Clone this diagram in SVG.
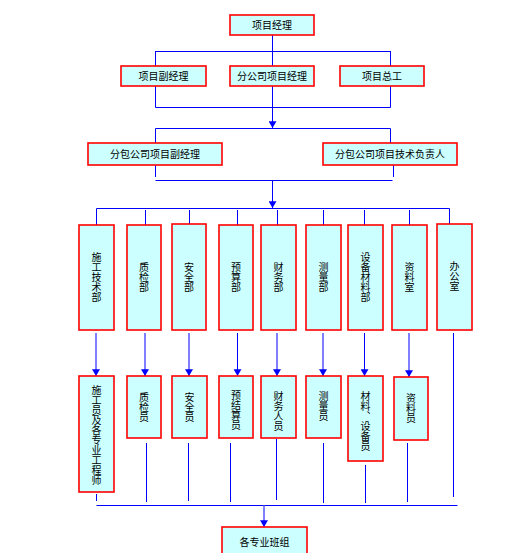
<svg xmlns="http://www.w3.org/2000/svg" width="524" height="553" viewBox="0 0 524 553">
<style>
.box{fill:#ccffff;stroke:#ff0000;stroke-width:1.6}
.t{font-family:"Noto Sans CJK SC","Noto Sans CJK JP",sans-serif;font-size:10px;fill:#000;text-anchor:middle}
.v{font-family:"Noto Sans CJK SC","Noto Sans CJK JP",sans-serif;font-size:10px;fill:#000;text-anchor:middle;writing-mode:vertical-rl}
.c{fill:none;stroke:#0000ff;stroke-width:1}
.l{fill:none;stroke:#7f7fff;stroke-width:2}
</style>
<defs>
<marker id="ah" markerUnits="userSpaceOnUse" markerWidth="8" markerHeight="8" refX="6" refY="3.5" orient="auto" viewBox="0 0 6 7">
<path d="M0,0 L6,3.5 L0,7 Z" fill="#0000ff"/>
</marker>
</defs>
<rect width="524" height="553" fill="#fff"/>
<g id="connectors">
<path class="c" d="M272.5,35V51.5M155.5,51.5H390.5M155.5,51V66M272.5,51V66M390.5,51V66"/>
<path class="c" d="M155.5,86V107.5M272.5,86V107.5M390.5,86V107.5M155.5,107.5H390.5"/>
<path class="c" d="M272.5,107.5V128" marker-end="url(#ah)"/>
<path class="c" d="M155.5,128.5H390.5M155.5,128.5V143M390.5,128.5V143"/>
<path class="c" d="M155.5,165V177M393.5,165V177M155.5,180.5H392.5"/>
<path class="c" d="M272.5,180.5V208" marker-end="url(#ah)"/>
<path class="c" d="M96.5,208.5H449.5M96.5,208.5V225M145.5,210V225M189.5,210V224M237.5,210V225M277.5,210V225M323.5,210V225M364.5,210V225M409.5,210V225M449.5,208.5V224"/>
<path class="l" d="M96,333V376" marker-end="url(#ah)"/>
<path class="l" d="M145,333V376" marker-end="url(#ah)"/>
<path class="l" d="M189,333V376" marker-end="url(#ah)"/>
<path class="c" d="M237.5,333V376" marker-end="url(#ah)"/>
<path class="l" d="M277,333V376" marker-end="url(#ah)"/>
<path class="l" d="M323,333V376" marker-end="url(#ah)"/>
<path class="c" d="M364.5,333V376" marker-end="url(#ah)"/>
<path class="l" d="M409,333V377" marker-end="url(#ah)"/>
<path class="c" d="M453.5,333V497"/>
<path class="c" d="M96.5,494V501M146.5,443V502M188.5,443V501M230.5,443V502M276.5,439V500M323.5,443V503M365.5,465V503M407.5,443V502"/>
<path class="c" d="M96.5,505.5H457.5"/>
<path class="l" d="M264,505.5V527" marker-end="url(#ah)"/>
</g>
<g id="n-pm"><rect class="box" x="230" y="15" width="84" height="20"/><text class="t" x="272" y="29">项目经理</text></g>
<g id="n-dpm"><rect class="box" x="121" y="66" width="85" height="20"/><text class="t" x="163.5" y="80">项目副经理</text></g>
<g id="n-bpm"><rect class="box" x="230" y="66" width="84" height="20"/><text class="t" x="272" y="80">分公司项目经理</text></g>
<g id="n-ce"><rect class="box" x="340" y="66" width="84" height="20"/><text class="t" x="382" y="80">项目总工</text></g>
<g id="n-sdpm"><rect class="box" x="88" y="143" width="134" height="22"/><text class="t" x="155" y="158">分包公司项目副经理</text></g>
<g id="n-stl"><rect class="box" x="323" y="143" width="134" height="22"/><text class="t" x="390" y="158">分包公司项目技术负责人</text></g>

<g id="d1"><rect class="box" x="79" y="225" width="35" height="105"/><text class="v" x="96.5" y="277.5">施工技术部</text></g>
<g id="d2"><rect class="box" x="127" y="225" width="34" height="105"/><text class="v" x="144" y="277.5">质检部</text></g>
<g id="d3"><rect class="box" x="172" y="224" width="34" height="106"/><text class="v" x="189" y="277.5">安全部</text></g>
<g id="d4"><rect class="box" x="219" y="225" width="34" height="105"/><text class="v" x="236" y="277.5">预算部</text></g>
<g id="d5"><rect class="box" x="261" y="225" width="35" height="105"/><text class="v" x="278.5" y="277.5">财务部</text></g>
<g id="d6"><rect class="box" x="306" y="225" width="35" height="105"/><text class="v" x="323.5" y="277.5">测量部</text></g>
<g id="d7"><rect class="box" x="348" y="225" width="35" height="105"/><text class="v" x="365.5" y="277.5">设备材料部</text></g>
<g id="d8"><rect class="box" x="392" y="225" width="35" height="105"/><text class="v" x="409.5" y="277.5">资料室</text></g>
<g id="d9"><rect class="box" x="437" y="224" width="35" height="106"/><text class="v" x="454.5" y="276.5">办公室</text></g>

<g id="s1"><rect class="box" x="79" y="376" width="35" height="116"/><text class="v" x="96.5" y="435">施工员及各专业工程师</text></g>
<g id="s2"><rect class="box" x="127" y="376" width="34" height="62"/><text class="v" x="144" y="407">质检员</text></g>
<g id="s3"><rect class="box" x="172" y="376" width="35" height="62"/><text class="v" x="189.5" y="407">安全员</text></g>
<g id="s4"><rect class="box" x="219" y="376" width="34" height="62"/><text class="v" x="236" y="410.5">预结算员</text></g>
<g id="s5"><rect class="box" x="261" y="376" width="35" height="62"/><text class="v" x="278.5" y="411">财务人员</text></g>
<g id="s6"><rect class="box" x="306" y="376" width="35" height="62"/><text class="v" x="323.5" y="406.7">测量员</text></g>
<g id="s7"><rect class="box" x="348" y="376" width="35" height="85"/><text class="v" x="365.5" y="421">材料、设备员</text></g>
<g id="s8"><rect class="box" x="394" y="377" width="34" height="63"/><text class="v" x="411" y="408.3">资料员</text></g>

<g id="n-teams"><rect class="box" x="222" y="527" width="85" height="34"/><text class="t" x="264.5" y="546">各专业班组</text></g>
</svg>
